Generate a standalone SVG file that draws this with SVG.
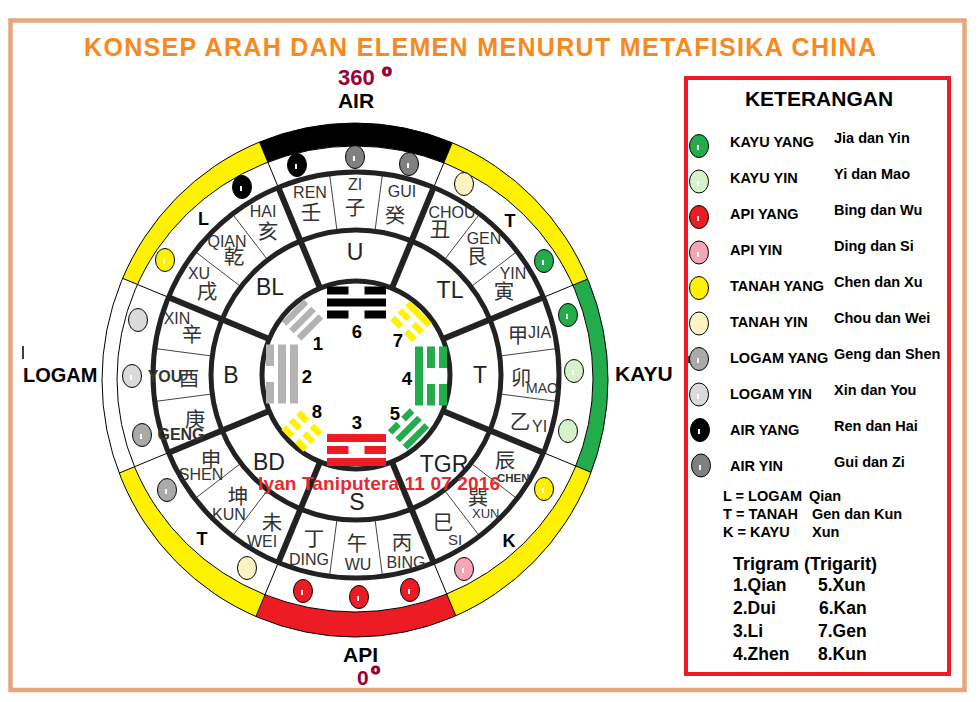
<svg xmlns="http://www.w3.org/2000/svg" width="978" height="702" viewBox="0 0 978 702">
<style>
.cjk{font-family:"Noto Sans CJK SC","Noto Sans CJK TC",sans-serif;font-size:20.5px;fill:#333;text-anchor:middle}
.py{font-family:"Liberation Sans",Arial,sans-serif;font-size:16px;fill:#333;text-anchor:middle}
.pys{font-family:"Liberation Sans",Arial,sans-serif;fill:#333}
.sec{font-family:"Liberation Sans",Arial,sans-serif;font-size:23px;fill:#222;text-anchor:middle}
.b{font-family:"Liberation Sans",Arial,sans-serif;font-weight:bold;fill:#000}
.lg{font-size:14.5px}
.num{font-size:18.5px;text-anchor:middle}
.dir{font-size:21px}
.deg{fill:#990033}
.degs{fill:#990033;stroke:#990033;stroke-width:1.2}
.thin{stroke:#444;stroke-width:1}
.edge{stroke:#000;stroke-width:1}
.thick{stroke:#222;stroke-width:6;stroke-linecap:butt}
.ring{stroke:#222;stroke-width:5;fill:none}
.dot{stroke:#000;stroke-width:1}
.hl{fill:#fff}
</style>
<defs>
<clipPath id="outerClip"><ellipse cx="355" cy="380" rx="253" ry="257"/></clipPath>
<rect id="sC" x="-29.5" y="-4" width="59" height="8"/>
<g id="bC"><rect x="-29.5" y="-4" width="21.5" height="8"/><rect x="8" y="-4" width="21.5" height="8"/></g>
<rect id="sD" x="-15.5" y="-3.25" width="31" height="6.5"/>
<g id="bD"><rect x="-15.5" y="-3.25" width="12" height="6.5"/><rect x="3.5" y="-3.25" width="12" height="6.5"/></g>
</defs>
<rect x="0" y="0" width="978" height="702" fill="#fff"/>
<rect x="10.5" y="20.5" width="954" height="669.5" fill="none" stroke="#e5a77b" stroke-width="4.5"/>
<line x1="23" y1="346" x2="23" y2="359" stroke="#000" stroke-width="1.5"/>
<line x1="689" y1="356" x2="689" y2="363" stroke="#000" stroke-width="1.5"/>

<g id="title">
<text x="84" y="56" class="b" font-size="25" style="fill:#f7891f" textLength="792" lengthAdjust="spacing">KONSEP ARAH DAN ELEMEN MENURUT METAFISIKA CHINA</text>
</g>

<g id="directions">
<text x="338" y="85" class="b deg" font-size="22">360</text>
<text x="382" y="76" class="b degs" font-size="16">o</text>
<text x="356" y="108" class="b dir" text-anchor="middle">AIR</text>
<text x="23" y="382" class="b" font-size="20">LOGAM</text>
<text x="615" y="381" class="b dir">KAYU</text>
<text x="343" y="662" class="b dir">API</text>
<text x="357" y="685" class="b deg" font-size="21">0</text>
<text x="371" y="674" class="b degs" font-size="15">o</text>
</g>

<g id="band">
<g clip-path="url(#outerClip)">
<path d="M356,375 L241.19,97.84 L470.81,97.84 Z" fill="#000"/>
<path d="M356,375 L470.81,97.84 L633.16,260.19 Z" fill="#fff200"/>
<path d="M356,375 L633.16,260.19 L633.16,489.81 Z" fill="#22ac4c"/>
<path d="M356,375 L633.16,489.81 L470.81,652.16 Z" fill="#fff200"/>
<path d="M356,375 L470.81,652.16 L241.19,652.16 Z" fill="#ed1c24"/>
<path d="M356,375 L241.19,652.16 L78.84,489.81 Z" fill="#fff200"/>
<path d="M356,375 L78.84,260.19 L241.19,97.84 Z" fill="#fff200"/>
<ellipse cx="355" cy="379" rx="238" ry="233" fill="#fff" stroke="#000" stroke-width="1"/>
<g id="connectors-outer" class="edge">
<line x1="433.68" y1="187.45" x2="461.24" y2="120.93"/>
<line x1="543.55" y1="297.32" x2="610.07" y2="269.76"/>
<line x1="543.55" y1="452.68" x2="610.07" y2="480.24"/>
<line x1="433.68" y1="562.55" x2="461.24" y2="629.07"/>
<line x1="278.32" y1="562.55" x2="250.76" y2="629.07"/>
<line x1="168.45" y1="452.68" x2="101.93" y2="480.24"/>
<line x1="168.45" y1="297.32" x2="101.93" y2="269.76"/>
<line x1="278.32" y1="187.45" x2="250.76" y2="120.93"/>
</g>
</g>
<ellipse cx="355" cy="380" rx="253" ry="257" fill="none" stroke="#000" stroke-width="1"/>
</g>

<g id="connectors">
<g class="thin">
<line x1="374.93" y1="231.24" x2="382.50" y2="173.74"/>
<line x1="444.27" y1="259.96" x2="479.58" y2="213.95"/>
<line x1="471.04" y1="286.73" x2="517.05" y2="251.42"/>
<line x1="499.76" y1="356.07" x2="557.26" y2="348.50"/>
<line x1="499.76" y1="393.93" x2="557.26" y2="401.50"/>
<line x1="471.04" y1="463.27" x2="517.05" y2="498.58"/>
<line x1="444.27" y1="490.04" x2="479.58" y2="536.05"/>
<line x1="374.93" y1="518.76" x2="382.50" y2="576.26"/>
<line x1="337.07" y1="518.76" x2="329.50" y2="576.26"/>
<line x1="267.73" y1="490.04" x2="232.42" y2="536.05"/>
<line x1="240.96" y1="463.27" x2="194.95" y2="498.58"/>
<line x1="212.24" y1="393.93" x2="154.74" y2="401.50"/>
<line x1="212.24" y1="356.07" x2="154.74" y2="348.50"/>
<line x1="240.96" y1="286.73" x2="194.95" y2="251.42"/>
<line x1="267.73" y1="259.96" x2="232.42" y2="213.95"/>
<line x1="337.07" y1="231.24" x2="329.50" y2="173.74"/>
</g>
<g class="thick">
<line x1="391.97" y1="288.15" x2="433.68" y2="187.45"/>
<line x1="442.85" y1="339.03" x2="543.55" y2="297.32"/>
<line x1="442.85" y1="410.97" x2="543.55" y2="452.68"/>
<line x1="391.97" y1="461.85" x2="433.68" y2="562.55"/>
<line x1="320.03" y1="461.85" x2="278.32" y2="562.55"/>
<line x1="269.15" y1="410.97" x2="168.45" y2="452.68"/>
<line x1="269.15" y1="339.03" x2="168.45" y2="297.32"/>
<line x1="320.03" y1="288.15" x2="278.32" y2="187.45"/>
</g>
</g>

<g id="rings">
<circle cx="356" cy="375" r="94" class="ring"/>
<circle cx="356" cy="375" r="145" class="ring"/>
<circle cx="356" cy="375" r="203" class="ring"/>
</g>

<g id="sectors">
<text x="355" y="260" class="sec">U</text>
<text x="450" y="298" class="sec">TL</text>
<text x="480" y="383" class="sec">T</text>
<text x="444" y="472" class="sec">TGR</text>
<text x="357" y="510" class="sec">S</text>
<text x="269" y="470" class="sec">BD</text>
<text x="231" y="383" class="sec">B</text>
<text x="270" y="295" class="sec">BL</text>
</g>

<g id="mountains">
<g id="m-ren"><text x="311" y="220" class="cjk">壬</text><text x="310" y="198" class="py">REN</text></g>
<g id="m-zi"><text x="355" y="215" class="cjk">子</text><text x="355" y="190" class="py">ZI</text></g>
<g id="m-gui"><text x="395" y="223" class="cjk">癸</text><text x="402" y="197" class="py">GUI</text></g>
<g id="m-chou"><text x="440" y="237" class="cjk">丑</text><text x="452" y="218" class="py" font-size="14">CHOU</text></g>
<g id="m-gen"><text x="477" y="264" class="cjk">艮</text><text x="484" y="244" class="py">GEN</text></g>
<g id="m-yin"><text x="504" y="299" class="cjk">寅</text><text x="513" y="279" class="py">YIN</text></g>
<g id="m-jia"><text x="518" y="343" class="cjk">甲</text><text x="528" y="338" class="pys" font-size="16">JIA</text></g>
<g id="m-mao"><text x="521" y="385" class="cjk">卯</text><text x="526" y="393" class="pys" font-size="14">MAO</text></g>
<g id="m-yi"><text x="520" y="429" class="cjk">乙</text><text x="532" y="432" class="pys" font-size="16">YI</text></g>
<g id="m-chen"><text x="505" y="468" class="cjk">辰</text><text x="497" y="482" class="pys" font-size="11.5" font-weight="bold">CHEN</text></g>
<g id="m-xun"><text x="478" y="505" class="cjk">巽</text><text x="472" y="518" class="pys" font-size="13">XUN</text></g>
<g id="m-si"><text x="443" y="530" class="cjk">巳</text><text x="448" y="545" class="pys" font-size="15">SI</text></g>
<g id="m-bing"><text x="402" y="550" class="cjk">丙</text><text x="406" y="568" class="py">BING</text></g>
<g id="m-wu"><text x="357" y="551" class="cjk">午</text><text x="358" y="570" class="py">WU</text></g>
<g id="m-ding"><text x="314" y="546" class="cjk">丁</text><text x="309" y="565" class="py">DING</text></g>
<g id="m-wei"><text x="272" y="530" class="cjk">未</text><text x="262" y="547" class="py" font-size="15">WEI</text></g>
<g id="m-kun"><text x="238" y="504" class="cjk">坤</text><text x="229" y="520" class="py" font-size="15">KUN</text></g>
<g id="m-shen"><text x="211" y="467" class="cjk">申</text><text x="201" y="480" class="py" font-size="14">SHEN</text></g>
<g id="m-geng"><text x="195" y="427" class="cjk">庚</text><text x="181" y="440" class="py" font-size="11" font-weight="bold">GENG</text></g>
<g id="m-you"><text x="189" y="386" class="cjk">酉</text><text x="165" y="382" class="py" font-size="10.5" font-weight="bold">YOU</text></g>
<g id="m-xin"><text x="192" y="342" class="cjk">辛</text><text x="177" y="324" class="py">XIN</text></g>
<g id="m-xu"><text x="207" y="299" class="cjk">戌</text><text x="199" y="279" class="py">XU</text></g>
<g id="m-qian"><text x="234" y="264" class="cjk">乾</text><text x="227" y="247" class="py">QIAN</text></g>
<g id="m-hai"><text x="268" y="239" class="cjk">亥</text><text x="263" y="217" class="py">HAI</text></g>
</g>

<g id="dots">
<ellipse cx="297" cy="165" rx="9.5" ry="11.5" class="dot" fill="#000"/>
<ellipse cx="242" cy="187" rx="9.5" ry="11.5" class="dot" fill="#000"/>
<ellipse cx="355" cy="157" rx="9.5" ry="11.5" class="dot" fill="#808080"/>
<ellipse cx="409" cy="164" rx="9.5" ry="11.5" class="dot" fill="#808080"/>
<ellipse cx="464" cy="184" rx="9.5" ry="11.5" class="dot" fill="#fff3c4"/>
<ellipse cx="544" cy="261" rx="9.5" ry="11.5" class="dot" fill="#22ac4c"/>
<ellipse cx="568" cy="315" rx="9.5" ry="11.5" class="dot" fill="#22ac4c"/>
<ellipse cx="574" cy="371" rx="9.5" ry="11.5" class="dot" fill="#d5f2c8"/>
<ellipse cx="568" cy="431" rx="9.5" ry="11.5" class="dot" fill="#d5f2c8"/>
<ellipse cx="544" cy="489" rx="9.5" ry="11.5" class="dot" fill="#fff200"/>
<ellipse cx="464" cy="569" rx="9.5" ry="11.5" class="dot" fill="#f6a5b5"/>
<ellipse cx="410" cy="590" rx="9.5" ry="11.5" class="dot" fill="#ed1c24"/>
<ellipse cx="359" cy="597" rx="9.5" ry="11.5" class="dot" fill="#ed1c24"/>
<ellipse cx="303" cy="591" rx="9.5" ry="11.5" class="dot" fill="#ed1c24"/>
<ellipse cx="247" cy="568" rx="9.5" ry="11.5" class="dot" fill="#fff3c4"/>
<ellipse cx="167" cy="490" rx="9.5" ry="11.5" class="dot" fill="#aaaaaa"/>
<ellipse cx="142" cy="435" rx="9.5" ry="11.5" class="dot" fill="#aaaaaa"/>
<ellipse cx="132" cy="376" rx="9.5" ry="11.5" class="dot" fill="#dadada"/>
<ellipse cx="138" cy="320" rx="9.5" ry="11.5" class="dot" fill="#dadada"/>
<ellipse cx="165" cy="260" rx="9.5" ry="11.5" class="dot" fill="#fff200"/>
<g class="hl">
<rect x="295" y="164" width="2" height="5"/><rect x="240" y="186" width="2" height="5"/>
<rect x="353" y="156" width="2" height="5"/><rect x="407" y="163" width="2" height="5"/>
<rect x="566" y="314" width="2" height="5"/><rect x="572" y="370" width="2" height="5"/>
<rect x="408" y="589" width="2" height="5"/><rect x="357" y="596" width="2" height="5"/>
<rect x="301" y="590" width="2" height="5"/><rect x="462" y="568" width="2" height="5"/>
<rect x="165" y="489" width="2" height="5"/><rect x="140" y="434" width="2" height="5"/>
<rect x="130" y="375" width="2" height="5"/><rect x="163" y="259" width="2" height="5"/>
<rect x="542" y="260" width="2" height="5"/><rect x="542" y="488" width="2" height="5"/>
</g>
<text x="198" y="225" class="b" font-size="18">L</text>
<text x="510" y="227" class="b" font-size="18" text-anchor="middle">T</text>
<text x="202" y="545" class="b" font-size="18" text-anchor="middle">T</text>
<text x="509" y="547" class="b" font-size="18" text-anchor="middle">K</text>
</g>

<g id="trigrams">
<g id="tg-kan" transform="translate(356.5,302.5)" fill="#000"><use href="#bC" y="-12"/><use href="#sC"/><use href="#bC" y="12"/></g>
<g id="tg-li" transform="translate(356.5,450) rotate(180)" fill="#ed1c24"><use href="#sC" y="-12"/><use href="#bC"/><use href="#sC" y="12"/></g>
<g id="tg-dui" transform="translate(282,374) rotate(-90)" fill="#b3b3b3"><use href="#bC" y="-12"/><use href="#sC"/><use href="#sC" y="12"/></g>
<g id="tg-zhen" transform="translate(431,376) rotate(90)" fill="#22ac4c"><use href="#bC" y="-12"/><use href="#bC"/><use href="#sC" y="12"/></g>
<g id="tg-qian" transform="translate(302.5,320) rotate(-45)" fill="#b3b3b3"><use href="#sD" y="-10.5"/><use href="#sD"/><use href="#sD" y="10.5"/></g>
<g id="tg-gen" transform="translate(411,321.5) rotate(45)" fill="#fff200"><use href="#sD" y="-10.5"/><use href="#bD"/><use href="#bD" y="10.5"/></g>
<g id="tg-kun" transform="translate(302,431) rotate(-135)" fill="#fff200"><use href="#bD" y="-10.5"/><use href="#bD"/><use href="#bD" y="10.5"/></g>
<g id="tg-xun" transform="translate(408.5,429) rotate(135)" fill="#22ac4c"><use href="#sD" y="-10.5"/><use href="#sD"/><use href="#bD" y="10.5"/></g>
<text x="357" y="338" class="b num">6</text>
<text x="318" y="350" class="b num">1</text>
<text x="398" y="347" class="b num">7</text>
<text x="307" y="383" class="b num">2</text>
<text x="407" y="385" class="b num">4</text>
<text x="317" y="418" class="b num">8</text>
<text x="395" y="420" class="b num">5</text>
<text x="357" y="429" class="b num">3</text>
</g>

<text id="credit" x="258" y="490" class="b" font-size="19" style="fill:#e42a2f" textLength="242" lengthAdjust="spacing">Iyan Taniputera 11 07 2016</text>

<g id="legend">
<rect x="686" y="78" width="263" height="596" fill="none" stroke="#ed1c24" stroke-width="4"/>
<text x="819" y="106" class="b" font-size="21" text-anchor="middle">KETERANGAN</text>
<g id="lg-dots">
<ellipse cx="699" cy="146" rx="9.5" ry="11.5" class="dot" fill="#22ac4c"/>
<ellipse cx="699" cy="181.5" rx="9.5" ry="11.5" class="dot" fill="#d5f2c8"/>
<ellipse cx="699" cy="217" rx="9.5" ry="11.5" class="dot" fill="#ed1c24"/>
<ellipse cx="699" cy="252.5" rx="9.5" ry="11.5" class="dot" fill="#f6a5b5"/>
<ellipse cx="699" cy="288" rx="9.5" ry="11.5" class="dot" fill="#fff200"/>
<ellipse cx="699" cy="323.5" rx="9.5" ry="11.5" class="dot" fill="#fff3c4"/>
<ellipse cx="699" cy="359" rx="9.5" ry="11.5" class="dot" fill="#aaaaaa"/>
<ellipse cx="699" cy="394.5" rx="9.5" ry="11.5" class="dot" fill="#dadada"/>
<ellipse cx="700" cy="430" rx="9.5" ry="11.5" class="dot" fill="#000"/>
<ellipse cx="701" cy="465.5" rx="9.5" ry="11.5" class="dot" fill="#808080"/>
<g class="hl">
<rect x="697" y="145" width="2" height="5"/><rect x="697" y="216" width="2" height="5"/>
<rect x="697" y="252" width="2" height="5"/><rect x="697" y="358" width="2" height="5"/>
<rect x="697" y="394" width="2" height="5"/><rect x="698" y="429" width="2" height="5"/>
<rect x="699" y="465" width="2" height="5"/><rect x="697" y="181" width="2" height="5"/>
</g>
</g>
<g class="b lg">
<text x="730" y="147">KAYU YANG</text><text x="834" y="143">Jia dan Yin</text>
<text x="730" y="183">KAYU YIN</text><text x="834" y="179">Yi dan Mao</text>
<text x="730" y="219">API YANG</text><text x="834" y="215">Bing dan Wu</text>
<text x="730" y="255">API YIN</text><text x="834" y="251">Ding dan Si</text>
<text x="730" y="291">TANAH YANG</text><text x="834" y="287">Chen dan Xu</text>
<text x="730" y="327">TANAH YIN</text><text x="834" y="323">Chou dan Wei</text>
<text x="730" y="363">LOGAM YANG</text><text x="834" y="359">Geng dan Shen</text>
<text x="730" y="399">LOGAM YIN</text><text x="834" y="395">Xin dan You</text>
<text x="730" y="435">AIR YANG</text><text x="834" y="431">Ren dan Hai</text>
<text x="730" y="471">AIR YIN</text><text x="834" y="467">Gui dan Zi</text>
<text x="723" y="501">L = LOGAM</text><text x="809" y="501">Qian</text>
<text x="723" y="519">T = TANAH</text><text x="812" y="519">Gen dan Kun</text>
<text x="723" y="537">K = KAYU</text><text x="812" y="537">Xun</text>
</g>
<g class="b" font-size="17.5">
<text x="733" y="570" font-size="18">Trigram (Trigarit)</text>
<text x="733" y="591">1.Qian</text><text x="818" y="591">5.Xun</text>
<text x="733" y="614">2.Dui</text><text x="819" y="614">6.Kan</text>
<text x="733" y="637">3.Li</text><text x="818" y="637">7.Gen</text>
<text x="733" y="660">4.Zhen</text><text x="818" y="660">8.Kun</text>
</g>
</g>
</svg>
